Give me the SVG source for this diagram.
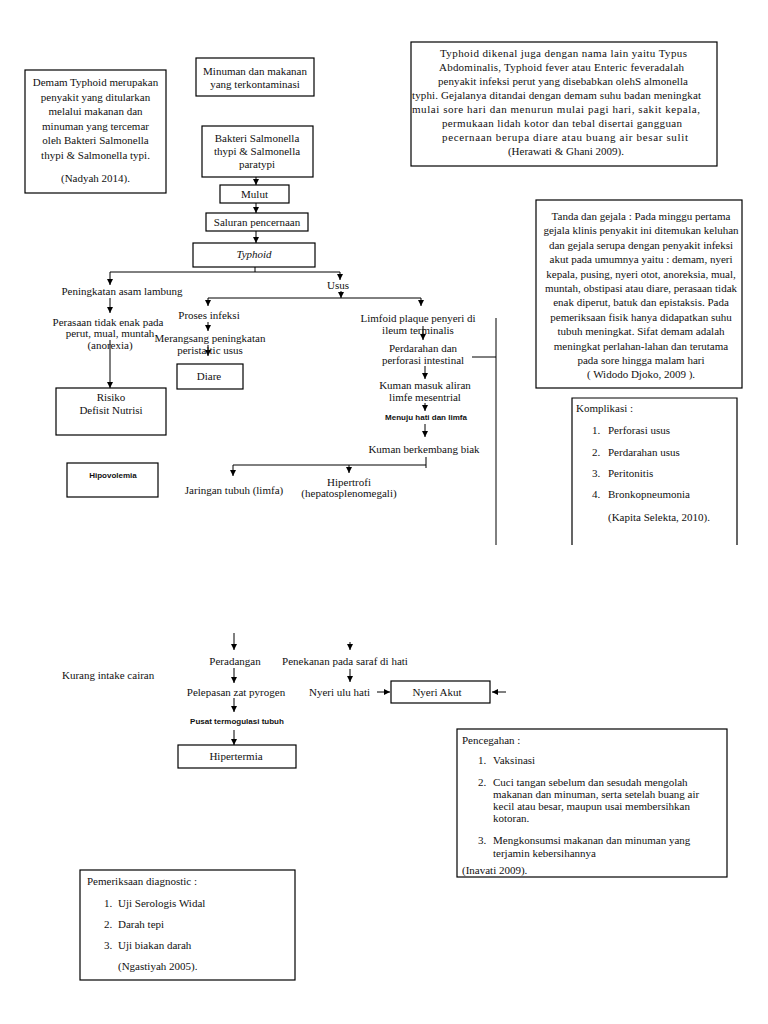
<svg xmlns="http://www.w3.org/2000/svg" width="768" height="1024" viewBox="0 0 768 1024">
<style>
.bg{fill:#fff}
.box{fill:#fff;stroke:#000;stroke-width:1.2}
.t{font-family:"Liberation Serif",serif;font-size:11px;fill:#111}
.c{text-anchor:middle}
.i{font-style:italic}
.s{font-family:"Liberation Sans",sans-serif;font-size:8px;font-weight:bold;fill:#111}
.ln{stroke:#000;stroke-width:1;fill:none}
.ar{stroke:#000;stroke-width:1;fill:none;marker-end:url(#ah)}
</style>
<defs>
<marker id="ah" markerUnits="userSpaceOnUse" markerWidth="6" markerHeight="6" refX="6" refY="3" orient="auto">
<path d="M0,0 L6,3 L0,6 z" fill="#000"/>
</marker>
</defs>
<rect class="bg" x="0" y="0" width="768" height="1024"/>

<g id="connectors">
<line class="ar" x1="256" y1="177" x2="256" y2="185"/>
<line class="ar" x1="256" y1="203" x2="256" y2="213"/>
<line class="ar" x1="256" y1="231" x2="256" y2="243"/>
<polyline class="ln" points="255,267 255,272"/>
<line class="ln" x1="110" y1="272" x2="340" y2="272"/>
<line class="ar" x1="110" y1="272" x2="110" y2="285"/>
<line class="ar" x1="340" y1="272" x2="340" y2="280"/>
<line class="ar" x1="110" y1="298" x2="110" y2="313"/>
<line class="ar" x1="110" y1="340" x2="110" y2="388"/>
<line class="ar" x1="341" y1="291" x2="341" y2="298"/>
<line class="ln" x1="208" y1="298" x2="421" y2="298"/>
<line class="ar" x1="208" y1="298" x2="208" y2="306"/>
<line class="ar" x1="421" y1="298" x2="421" y2="306"/>
<line class="ar" x1="208" y1="322" x2="208" y2="331"/>
<line class="ar" x1="208" y1="345" x2="208" y2="356"/>
<line class="ar" x1="423" y1="326" x2="423" y2="340"/>
<line class="ar" x1="425" y1="366" x2="425" y2="379"/>
<line class="ar" x1="425" y1="403" x2="425" y2="411"/>
<line class="ar" x1="425" y1="424" x2="425" y2="437"/>
<line class="ln" x1="426" y1="457" x2="426" y2="468"/>
<line class="ln" x1="233" y1="465" x2="426" y2="465"/>
<line class="ar" x1="233" y1="465" x2="233" y2="476"/>
<line class="ar" x1="349" y1="465" x2="349" y2="473"/>
<line class="ln" x1="472" y1="357" x2="496" y2="357"/>
<line class="ln" x1="496" y1="318" x2="496" y2="545"/>
<line class="ar" x1="234" y1="633" x2="234" y2="650"/>
<line class="ar" x1="350" y1="642" x2="350" y2="650"/>
<line class="ar" x1="234" y1="668" x2="234" y2="683"/>
<line class="ar" x1="350" y1="669" x2="350" y2="682"/>
<line class="ar" x1="377" y1="692" x2="390" y2="692"/>
<line class="ar" x1="506" y1="692" x2="492" y2="692"/>
<line class="ar" x1="234" y1="698" x2="234" y2="712"/>
<line class="ar" x1="234" y1="730" x2="234" y2="745"/>
</g>

<g id="n-definisi">
<rect class="box" x="25" y="70" width="141" height="123"/>
<text class="t c" x="95.5" y="86">Demam Typhoid merupakan</text>
<text class="t c" x="95.5" y="100.5">penyakit yang ditularkan</text>
<text class="t c" x="95.5" y="115">melalui makanan dan</text>
<text class="t c" x="95.5" y="129.5">minuman yang  tercemar</text>
<text class="t c" x="95.5" y="144">oleh Bakteri Salmonella</text>
<text class="t c" x="95.5" y="158.5">thypi &amp; Salmonella typi.</text>
<text class="t c" x="95.5" y="182">(Nadyah 2014).</text>
</g>

<g id="n-minuman">
<rect class="box" x="196" y="58" width="118" height="38"/>
<text class="t c" x="255" y="75">Minuman dan makanan</text>
<text class="t c" x="255" y="88">yang terkontaminasi</text>
</g>

<g id="n-bakteri">
<rect class="box" x="202" y="126" width="111" height="51"/>
<text class="t c" x="257" y="142">Bakteri Salmonella</text>
<text class="t c" x="257" y="155">thypi &amp; Salmonella</text>
<text class="t c" x="257" y="168">paratypi</text>
</g>

<g id="n-mulut">
<rect class="box" x="220" y="185" width="69" height="18"/>
<text class="t c" x="254.5" y="198">Mulut</text>
</g>

<g id="n-saluran">
<rect class="box" x="206" y="213" width="102" height="18"/>
<text class="t c" x="257" y="226">Saluran pencernaan</text>
</g>

<g id="n-typhoid">
<rect class="box" x="193" y="243" width="122" height="24"/>
<text class="t c i" x="254" y="258">Typhoid</text>
</g>

<g id="n-info">
<rect class="box" x="411" y="42" width="306" height="124"/>
<text class="t" x="440" y="56.5" textLength="247" lengthAdjust="spacing">Typhoid dikenal juga dengan nama lain yaitu Typus</text>
<text class="t" x="439" y="70.5" textLength="245" lengthAdjust="spacing">Abdominalis, Typhoid fever atau Enteric feveradalah</text>
<text class="t" x="438" y="84.5" textLength="250" lengthAdjust="spacing">penyakit infeksi perut yang disebabkan olehS almonella</text>
<text class="t" x="412" y="98.5" textLength="289" lengthAdjust="spacing">typhi. Gejalanya ditandai dengan demam suhu badan meningkat</text>
<text class="t" x="412" y="112.5" textLength="288" lengthAdjust="spacing">mulai sore hari dan menurun mulai pagi hari, sakit kepala,</text>
<text class="t" x="442" y="126.5" textLength="240" lengthAdjust="spacing">permukaan lidah kotor dan tebal disertai gangguan</text>
<text class="t" x="442" y="140.5" textLength="246" lengthAdjust="spacing">pecernaan berupa diare atau buang air besar sulit</text>
<text class="t c" x="566" y="155">(Herawati &amp; Ghani 2009).</text>
</g>

<g id="n-peningkatan">
<text class="t c" x="122" y="295">Peningkatan asam lambung</text>
</g>

<g id="n-perasaan">
<text class="t c" x="108" y="325.5">Perasaan tidak enak pada</text>
<text class="t c" x="110" y="337">perut, mual, muntah</text>
<text class="t c" x="110" y="349">(anorexia)</text>
</g>

<g id="n-risiko">
<rect class="box" x="56" y="388" width="110" height="47"/>
<text class="t c" x="111" y="401">Risiko</text>
<text class="t c" x="111" y="414">Defisit Nutrisi</text>
</g>

<g id="n-usus">
<text class="t c" x="338" y="289">Usus</text>
</g>

<g id="n-proses">
<text class="t c" x="209" y="319">Proses infeksi</text>
</g>

<g id="n-merangsang">
<text class="t c" x="210" y="341.5">Merangsang peningkatan</text>
<text class="t c" x="210" y="354">peristaltic usus</text>
</g>

<g id="n-diare">
<rect class="box" x="177" y="364" width="66" height="25"/>
<text class="t c" x="209" y="380">Diare</text>
</g>

<g id="n-limfoid">
<text class="t c" x="418" y="322">Limfoid plaque penyeri di</text>
<text class="t c" x="418" y="334">ileum terminalis</text>
</g>

<g id="n-perdarahan">
<text class="t c" x="423" y="352">Perdarahan dan</text>
<text class="t c" x="423" y="364">perforasi intestinal</text>
</g>

<g id="n-kuman-masuk">
<text class="t c" x="425" y="389">Kuman masuk aliran</text>
<text class="t c" x="425" y="401">limfe mesentrial</text>
</g>

<g id="n-menuju">
<text class="s c" x="426" y="420">Menuju hati dan limfa</text>
</g>

<g id="n-kuman-berkembang">
<text class="t c" x="424" y="453">Kuman berkembang biak</text>
</g>

<g id="n-jaringan">
<text class="t c" x="234" y="494">Jaringan tubuh (limfa)</text>
</g>

<g id="n-hipertrofi">
<text class="t c" x="349" y="486">Hipertrofi</text>
<text class="t c" x="349" y="497">(hepatosplenomegali)</text>
</g>

<g id="n-hipovolemia">
<rect class="box" x="67" y="463" width="91" height="34"/>
<text class="s c" x="113" y="478">Hipovolemia</text>
</g>

<g id="n-tanda">
<rect class="box" x="536" y="200" width="206" height="188"/>
<text class="t c" x="641" y="220">Tanda dan gejala : Pada minggu pertama</text>
<text class="t c" x="641" y="234.4">gejala klinis penyakit ini ditemukan keluhan</text>
<text class="t c" x="641" y="248.8">dan gejala serupa dengan penyakit infeksi</text>
<text class="t c" x="641" y="263.2">akut pada umumnya yaitu : demam, nyeri</text>
<text class="t c" x="641" y="277.6">kepala, pusing, nyeri otot, anoreksia, mual,</text>
<text class="t c" x="641" y="292">muntah, obstipasi atau diare, perasaan tidak</text>
<text class="t c" x="641" y="306.4">enak diperut, batuk dan epistaksis. Pada</text>
<text class="t c" x="641" y="320.8">pemeriksaan fisik hanya didapatkan suhu</text>
<text class="t c" x="641" y="335.2">tubuh meningkat. Sifat demam adalah</text>
<text class="t c" x="641" y="349.6">meningkat perlahan-lahan dan terutama</text>
<text class="t c" x="641" y="364">pada sore hingga malam hari</text>
<text class="t c" x="641" y="378.4">( Widodo Djoko, 2009 ).</text>
</g>

<g id="n-komplikasi">
<path class="box" d="M572,545 V398 H737 V545"/>
<text class="t" x="576" y="412">Komplikasi :</text>
<text class="t" x="592" y="434">1.</text><text class="t" x="608" y="434">Perforasi usus</text>
<text class="t" x="592" y="456">2.</text><text class="t" x="608" y="456">Perdarahan usus</text>
<text class="t" x="592" y="477">3.</text><text class="t" x="608" y="477">Peritonitis</text>
<text class="t" x="592" y="498">4.</text><text class="t" x="608" y="498">Bronkopneumonia</text>
<text class="t" x="608" y="521">(Kapita Selekta, 2010).</text>
</g>

<g id="n-peradangan">
<text class="t c" x="235" y="665">Peradangan</text>
</g>

<g id="n-penekanan">
<text class="t c" x="345" y="665">Penekanan pada saraf di hati</text>
</g>

<g id="n-kurang">
<text class="t" x="62" y="679">Kurang intake cairan</text>
</g>

<g id="n-pelepasan">
<text class="t c" x="236" y="696">Pelepasan zat pyrogen</text>
</g>

<g id="n-nyeri-ulu">
<text class="t" x="309" y="696">Nyeri ulu hati</text>
</g>

<g id="n-nyeri-akut">
<rect class="box" x="391" y="681" width="99" height="22"/>
<text class="t c" x="437" y="696">Nyeri Akut</text>
</g>

<g id="n-pusat">
<text class="s c" x="237" y="724">Pusat termogulasi tubuh</text>
</g>

<g id="n-hipertermia">
<rect class="box" x="178" y="745" width="118" height="23"/>
<text class="t c" x="236" y="760">Hipertermia</text>
</g>

<g id="n-pencegahan">
<rect class="box" x="457" y="729" width="270" height="148"/>
<text class="t" x="462" y="744">Pencegahan :</text>
<text class="t" x="478" y="764">1.</text><text class="t" x="493" y="764">Vaksinasi</text>
<text class="t" x="478" y="785.5">2.</text><text class="t" x="493" y="785.5">Cuci tangan sebelum dan sesudah mengolah</text>
<text class="t" x="493" y="797.5">makanan dan minuman, serta setelah buang air</text>
<text class="t" x="493" y="809.5">kecil atau besar, maupun usai membersihkan</text>
<text class="t" x="493" y="822">kotoran.</text>
<text class="t" x="478" y="844">3.</text><text class="t" x="493" y="844">Mengkonsumsi makanan dan minuman yang</text>
<text class="t" x="493" y="857">terjamin kebersihannya</text>
<text class="t" x="462" y="874">(Inavati 2009).</text>
</g>

<g id="n-pemeriksaan">
<rect class="box" x="80" y="870" width="215" height="110"/>
<text class="t" x="87" y="885">Pemeriksaan diagnostic :</text>
<text class="t" x="104" y="907">1.</text><text class="t" x="118" y="907">Uji Serologis Widal</text>
<text class="t" x="104" y="928">2.</text><text class="t" x="118" y="928">Darah tepi</text>
<text class="t" x="104" y="949">3.</text><text class="t" x="118" y="949">Uji biakan darah</text>
<text class="t" x="118" y="970">(Ngastiyah 2005).</text>
</g>
</svg>
